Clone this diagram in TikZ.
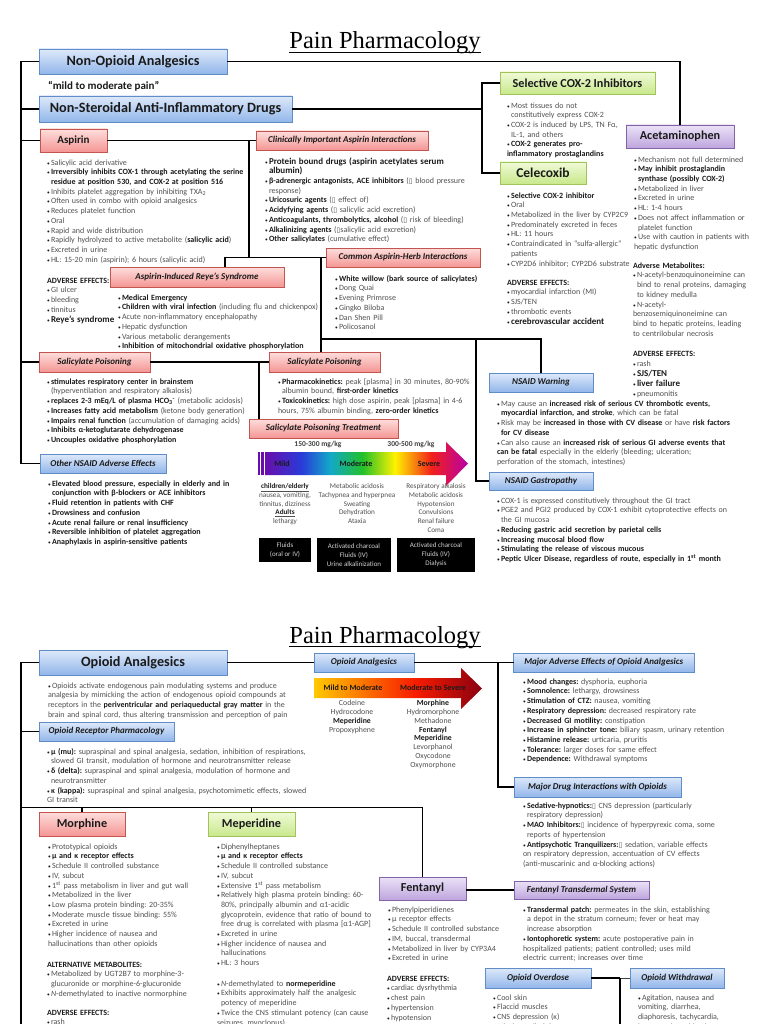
\documentclass[tikz,border=0pt]{standalone}
\usepackage{fontspec}
\setmainfont{Carlito}
\newfontfamily\serifttl{Liberation Serif}
\newfontfamily\djv{DejaVu Sans}
\AtBeginDocument{\frenchspacing}
\definecolor{txt}{HTML}{505050}
\definecolor{drk}{HTML}{1A1A1A}
\definecolor{rb1}{HTML}{6A0DAD}\definecolor{rb2}{HTML}{2A3BD8}\definecolor{rb3}{HTML}{12A8C8}
\definecolor{rb4}{HTML}{22C02A}\definecolor{rb5}{HTML}{FFF200}\definecolor{rb6}{HTML}{F2201A}\definecolor{rb7}{HTML}{B800A8}
\definecolor{ho1}{HTML}{FFC800}\definecolor{ho2}{HTML}{F81C00}\definecolor{ho3}{HTML}{8A0010}
\pgfdeclarehorizontalshading{rainbowx}{100bp}{color(0bp)=(rb1);color(25bp)=(rb1);color(34bp)=(rb2);color(41bp)=(rb3);color(49bp)=(rb4);color(57bp)=(rb5);color(66bp)=(rb6);color(75bp)=(rb7);color(100bp)=(rb7)}
\pgfdeclarehorizontalshading{heatx}{100bp}{color(0bp)=(ho1);color(25bp)=(ho1);color(55bp)=(ho2);color(75bp)=(ho3);color(100bp)=(ho3)}
\newcommand{\bb}[1]{\textbf{\color{drk}#1}}
\newcommand{\nog}{{\djv\fontsize{7}{5}\selectfont\symbol{"25AF}}}
\newcommand{\itm}{\par\hangindent=4pt\hangafter=1\noindent\hbox to 4pt{\rule{0pt}{6.5pt}\color{drk}\fontsize{5.5}{5}\selectfont\textbullet\hss}}
\newcommand{\bigb}[1]{{\fontsize{9}{9.7}\selectfont\bb{#1}}}
\newcommand{\hdr}[1]{\par\noindent\rule{0pt}{6.5pt}\bb{#1}}
\tikzset{
  conn/.style={draw=black,line width=1.9pt,line cap=butt,line join=miter},
  thinc/.style={draw=black!75,line width=.9pt},
  lst/.style={inner sep=0pt,outer sep=0pt,align=left,text=txt,font=\fontsize{8}{9.7}\selectfont},
  ctr/.style={inner sep=0pt,outer sep=0pt,align=center,text=txt,font=\fontsize{7.2}{8.75}\selectfont,anchor=north},
  ctrb/.style={ctr,font=\fontsize{7.8}{8.75}\selectfont},
  bxbase/.style={inner sep=0pt,outer sep=0pt,line width=.8pt,text=drk,align=center},
  blue/.style={bxbase,draw={rgb,255:red,96;green,140;blue,200},top color={rgb,255:red,222;green,233;blue,250},bottom color={rgb,255:red,146;green,182;blue,234}},
  red/.style={bxbase,draw={rgb,255:red,195;green,85;blue,80},top color={rgb,255:red,253;green,222;blue,220},bottom color={rgb,255:red,244;green,150;blue,148}},
  green/.style={bxbase,draw={rgb,255:red,160;green,195;blue,90},top color={rgb,255:red,240;green,250;blue,215},bottom color={rgb,255:red,200;green,232;blue,140}},
  purple/.style={bxbase,draw={rgb,255:red,128;green,100;blue,165},top color={rgb,255:red,235;green,226;blue,246},bottom color={rgb,255:red,190;green,165;blue,222}},
  blackb/.style={inner sep=0pt,outer sep=0pt,fill=black,text=black!18,align=center,font=\fontsize{7}{8.9}\selectfont},
  hbig/.style={font=\fontsize{14.2}{16}\selectfont\bfseries},
  hmid/.style={font=\fontsize{12.2}{14}\selectfont\bfseries},
  hsm/.style={font=\fontsize{11}{13}\selectfont\bfseries},
  hlg/.style={font=\fontsize{13.5}{15}\selectfont\bfseries},
  hit/.style={font=\fontsize{9}{11}\selectfont\bfseries\itshape},
  ttl/.style={inner sep=0pt,outer sep=0pt,text=black,font=\fontsize{24.5}{26}\selectfont\serifttl},
  lbl/.style={inner sep=0pt,outer sep=0pt,text=drk,font=\fontsize{8}{10}\selectfont\bfseries},
  lblr/.style={inner sep=0pt,outer sep=0pt,text=txt!80!black,font=\fontsize{7.5}{10}\selectfont\bfseries},
}
\newcommand{\mybox}[7][]{\node[#1,minimum width={(#5-#3)*1pt},minimum height={(#6-#4)*1pt}] (#2) at ({(#3+#5)/2},{(#4+#6)/2}) {#7};}
\newcommand{\blk}[5]{\node[lst,anchor=north west,text width=#4pt] (#1) at (#2,{#3-4.5}) {#5};}
\newcommand{\clist}[5][ctr]{\node[#1] (#2) at (#3,{#4-4.5}) {#5};}
\begin{document}
\begin{tikzpicture}[x=1pt,y=-1pt]
\useasboundingbox (0,0) rectangle (768,1024);
\clip (0,0) rectangle (768,1024);
\fill[white] (0,0) rectangle (768,1024);
\coordinate (s1) at (21,1);
\coordinate (j1) at (482,1);
\coordinate (j2) at (249,1);
\coordinate (j3) at (225,1);
\coordinate (j4) at (321,1);
\coordinate (j6) at (476,1);
\coordinate (j7) at (259,1);
\coordinate (h1) at (1,339);
\coordinate (j8) at (498,1);
\coordinate (h2) at (1,807.5);
\coordinate (j10) at (620,1);
\coordinate (bot) at (1,1030);
% titles
\node[ttl,anchor=base] (t1) at (385,49) {Pain Pharmacology};
\node[ttl,anchor=base] (t2) at (385,643) {Pain Pharmacology};
\draw[black,line width=.7pt] ([yshift=-3pt]t1.base west) -- ([yshift=-3pt]t1.base east);
\draw[black,line width=.7pt] ([yshift=-3pt]t2.base west) -- ([yshift=-3pt]t2.base east);
% boxes page 1
\mybox[blue,hbig]{nonop}{39}{49}{227}{74}{Non-Opioid Analgesics}
\mybox[blue,hbig]{nsaid}{39}{96}{292}{122}{Non-Steroidal Anti-Inflammatory Drugs}
\mybox[red,hsm]{aspirin}{40}{129}{107}{152}{Aspirin}
\mybox[red,hit]{clin}{256}{131}{428}{150}{Clinically Important Aspirin Interactions}
\mybox[red,hit]{reye}{110}{267}{284}{287}{Aspirin-Induced Reye’s Syndrome}
\mybox[red,hit]{common}{326}{248}{480}{267}{Common Aspirin-Herb Interactions}
\mybox[green,hmid]{selcox}{500}{72}{655}{94}{Selective COX-2 Inhibitors}
\mybox[green,hlg]{celeco}{500}{162}{586}{184}{Celecoxib}
\mybox[purple,hmid]{aceta}{626}{125}{734}{148}{Acetaminophen}
\mybox[red,hit]{salL}{39}{352}{150}{372}{Salicylate Poisoning}
\mybox[red,hit]{salR}{269}{352}{380}{372}{Salicylate Poisoning}
\mybox[red,hit]{treat}{249}{419}{398}{438}{Salicylate Poisoning Treatment}
\mybox[blue,hit]{other}{40}{454}{166}{473}{Other NSAID Adverse Effects}
\mybox[blue,hit]{warn}{489}{373}{593}{392}{NSAID Warning}
\mybox[blue,hit]{gastro}{489}{472}{593}{490}{NSAID Gastropathy}
% connectors page 1
\draw[conn] (nonop.west) -- (nonop.west -| s1) -- (other.west -| s1) -- (other.west);
\draw[conn] (nsaid.west) -- (nsaid.west -| s1);
\draw[conn] (aspirin.west) -- (aspirin.west -| s1);
\draw[conn] (salL.west) -- (salL.west -| s1);
\draw[conn] (nonop.east) -- (nonop.east -| aceta.north) -- (aceta.north);
\draw[conn] (nsaid.east) -- (nsaid.east -| j1);
\draw[conn] (selcox.west) -- (selcox.west -| j1) -- (celeco.west -| j1) -- (celeco.west);
\draw[conn] (aspirin.east) -- (clin.west);
\draw[conn] (aspirin.east -| j2) -- (common.west -| j2) -- (common.west);
\draw[conn] (reye.north -| j3) -- (common.west -| j3) -- (common.west -| j2);
\draw[conn] (common.west -| j4) -- (salR.north -| j4);
\draw[conn] (h1 -| j4) -- (h1 -| warn.north) -- (warn.north);
\draw[conn] (h1 -| j6) -- (gastro.west -| j6) -- (gastro.west);
\draw[conn] (salL.east) -- (salR.west);
\draw[conn] (salL.east -| j7) -- (treat.north -| j7);
% text page 1
\node[inner sep=0pt,outer sep=0pt,anchor=west,text=drk,font=\fontsize{11}{13}\selectfont\bfseries] (mild) at (48,86) {“mild to moderate pain”};
\blk{l1}{47}{160}{205}{\itm Salicylic acid derivative
\itm\bb{Irreversibly inhibits COX-1 through acetylating the serine\newline residue at position 530, and COX-2 at position 516}
\itm Inhibits platelet aggregation by inhibiting TXA\textsubscript{2}
\itm Often used in combo with opioid analgesics
\itm Reduces platelet function
\itm Oral
\itm Rapid and wide distribution
\itm Rapidly hydrolyzed to active metabolite (\bb{salicylic acid})
\itm Excreted in urine
\itm HL: 15-20 min (aspirin); 6 hours (salicylic acid)}
\blk{l1b}{47}{278}{70}{\hdr{ADVERSE EFFECTS:}
\itm GI ulcer
\itm bleeding
\itm tinnitus
\itm\bigb{Reye’s syndrome}}
\blk{l2}{118}{295}{225}{\itm\bb{Medical Emergency}
\itm\bb{Children with viral infection} (including flu and chickenpox)
\itm Acute non-inflammatory encephalopathy
\itm Hepatic dysfunction
\itm Various metabolic derangements
\itm\bb{Inhibition of mitochondrial oxidative phosphorylation}}
\blk{l3}{265}{159}{205}{\itm\bigb{Protein bound drugs (aspirin acetylates serum\newline albumin)}
\itm\bb{β-adrenergic antagonists, ACE inhibitors} (\nog{} blood pressure\newline response)
\itm\bb{Uricosuric agents} (\nog{} effect of)
\itm\bb{Acidyfying agents} (\nog{} salicylic acid excretion)
\itm\bb{Anticoagulants, thrombolytics, alcohol} (\nog{} risk of bleeding)
\itm\bb{Alkalinizing agents} (\nog{}salicylic acid excretion)
\itm\bb{Other salicylates} (cumulative effect)}
\blk{l4}{335}{276}{145}{\itm\bb{White willow (bark source of salicylates)}
\itm Dong Quai
\itm Evening Primrose
\itm Gingko Biloba
\itm Dan Shen Pill
\itm Policosanol}
\blk{l5}{507}{103}{112}{\itm Most tissues do not\newline constitutively express COX-2
\itm COX-2 is induced by LPS, TN Fα,\newline IL-1, and others
\itm\bb{COX-2 generates pro-\newline inflammatory prostaglandins}}
\blk{l6}{507}{193}{125}{\itm\bb{Selective COX-2 inhibitor}
\itm Oral
\itm Metabolized in the liver by CYP2C9
\itm Predominately excreted in feces
\itm HL: 11 hours
\itm Contraindicated in “sulfa-allergic”\newline patients
\itm CYP2D6 inhibitor; CYP2D6 substrate}
\blk{l6b}{507}{280}{110}{\hdr{ADVERSE EFFECTS:}
\itm myocardial infarction (MI)
\itm SJS/TEN
\itm thrombotic events
\itm\bigb{cerebrovascular accident}}
\blk{l7}{634}{157}{125}{\itm Mechanism not full determined
\itm\bb{May inhibit prostaglandin\newline synthase (possibly COX-2)}
\itm Metabolized in liver
\itm Excreted in urine
\itm HL: 1-4 hours
\itm Does not affect inflammation or\newline platelet function
\itm Use with caution in patients with\newline hepatic dysfunction}
\blk{l7b}{633}{263}{125}{\hdr{Adverse Metabolites:}
\itm N-acetyl-benzoquinoneimine can\newline bind to renal proteins, damaging\newline to kidney medulla
\itm N-acetyl-\newline benzosemiquinoneimine can\newline bind to hepatic proteins, leading\newline to centrilobular necrosis}
\blk{l7c}{633}{351}{70}{\hdr{ADVERSE EFFECTS:}
\par\vspace{1pt}\itm rash
\itm\bigb{SJS/TEN}
\itm\bigb{liver failure}
\itm pneumonitis}
\blk{l8}{47}{379}{205}{\itm\bb{stimulates respiratory center in brainstem}\newline (hyperventilation and respiratory alkalosis)
\itm\bb{replaces 2-3 mEq/L of plasma HCO\textsubscript{3}\textsuperscript{-}} (metabolic acidosis)
\itm\bb{Increases fatty acid metabolism} (ketone body generation)
\itm\bb{Impairs renal function} (accumulation of damaging acids)
\itm\bb{Inhibits α-ketoglutarate dehydrogenase}
\itm\bb{Uncouples oxidative phosphorylation}}
\blk{l9}{48}{481}{195}{\itm\bb{Elevated blood pressure, especially in elderly and in\newline conjunction with β-blockers or ACE inhibitors}
\itm\bb{Fluid retention in patients with CHF}
\itm\bb{Drowsiness and confusion}
\itm\bb{Acute renal failure or renal insufficiency}
\itm\bb{Reversible inhibition of platelet aggregation}
\itm\bb{Anaphylaxis in aspirin-sensitive patients}}
\blk{l10}{278}{379}{195}{\itm\bb{Pharmacokinetics:} peak [plasma] in 30 minutes, 80-90\%\newline albumin bound, \bb{first-order kinetics}
\itm\bb{Toxicokinetics:} high dose aspirin, peak [plasma] in 4-6\newline hours, 75\% albumin binding, \bb{zero-order kinetics}}
\blk{l11}{497}{401}{240}{\itm May cause an \bb{increased risk of serious CV thrombotic events,\newline myocardial infarction, and stroke}, which can be fatal
\itm Risk may be \bb{increased in those with CV disease} or have \bb{risk factors\newline for CV disease}
\itm Can also cause an \bb{increased risk of serious GI adverse events that\newline can be fatal} especially in the elderly (bleeding; ulceration;\newline perforation of the stomach, intestines)}
\blk{l12}{497}{498}{240}{\itm COX-1 is expressed constitutively throughout the GI tract
\itm PGE2 and PGI2 produced by COX-1 exhibit cytoprotective effects on\newline the GI mucosa
\itm\bb{Reducing gastric acid secretion by parietal cells}
\itm\bb{Increasing mucosal blood flow}
\itm\bb{Stimulating the release of viscous mucous}
\itm\bb{Peptic Ulcer Disease, regardless of route, especially in 1\textsuperscript{st} month}}
% rainbow arrow
\fill[rb1] (257.5,452) rectangle (259.5,475);
\fill[rb1] (261,452) rectangle (263.5,475);
\path[shading=rainbowx] (265,452) -- (446,452) -- (446,442) -- (468,463.5) -- (446,486) -- (446,475) -- (265,475) -- cycle;
\node[lblr,anchor=center] (d1) at (318,445) {150-300 mg/kg};
\node[lblr,anchor=center] (d2) at (411,445) {300-500 mg/kg};
\node[lbl,anchor=center] (sev1) at (282,464) {Mild};
\node[lbl,anchor=center] (sev2) at (356,464) {Moderate};
\node[lbl,anchor=center] (sev3) at (429,464) {Severe};
\clist{c1}{285}{488}{\underline{\bb{children/elderly}}\\nausea, vomiting,\\tinnitus, dizziness\\\underline{\bb{Adults}}\\lethargy}
\clist{c2}{357}{488}{Metabolic acidosis\\Tachypnea and hyperpnea\\Sweating\\Dehydration\\Ataxia}
\clist{c3}{436}{488}{Respiratory alkalosis\\Metabolic acidosis\\Hypotension\\Convulsions\\Renal failure\\Coma}
\mybox[blackb]{f1}{259}{538}{311}{562}{Fluids\\(oral or IV)}
\mybox[blackb]{f2}{317}{538}{391}{572}{Activated charcoal\\Fluids (IV)\\Urine alkalinization}
\mybox[blackb]{f3}{397}{538}{475}{572}{Activated charcoal\\Fluids (IV)\\Dialysis}
% boxes page 2
\mybox[blue,hbig]{opioid}{39}{650}{227}{675}{Opioid Analgesics}
\mybox[blue,hit]{opsm}{314}{653}{414}{672}{Opioid Analgesics}
\mybox[blue,hit]{major}{513.5}{653}{694}{672}{Major Adverse Effects of Opioid Analgesics}
\mybox[blue,hit]{drug}{514}{777}{681}{797}{Major Drug Interactions with Opioids}
\mybox[blue,hit]{recep}{39}{722}{174}{741}{Opioid Receptor Pharmacology}
\mybox[red,hmid]{morph}{39}{812}{125}{836}{Morphine}
\mybox[green,hmid]{meper}{208}{812}{295}{836}{Meperidine}
\mybox[purple,hmid]{fent}{379}{877}{466}{900}{Fentanyl}
\mybox[purple,hit]{trans}{514}{881}{649}{899}{Fentanyl Transdermal System}
\mybox[blue,hit]{over}{485}{968}{591}{988}{Opioid Overdose}
\mybox[blue,hit]{with}{630}{968}{724}{988}{Opioid Withdrawal}
% connectors page 2
\draw[conn] (opioid.west) -- (opioid.west -| s1) -- (bot -| s1);
\draw[conn] (recep.west) -- (recep.west -| s1);
\draw[conn] (opioid.east) -- (opsm.west);
\draw[conn] (opsm.east) -- (major.west);
\draw[conn] (major.west -| j8) -- (drug.west -| j8) -- (drug.west);
\draw[conn] (h2 -| s1) -- (h2 -| fent.north) -- (fent.north);
\draw[conn] (morph.north) -- (morph.north |- h2);
\draw[conn] (meper.north) -- (meper.north |- h2);
\draw[conn] (trans.west -| fent.east) -- (trans.west);
\draw[conn] (over.east) -- (over.east -| j10);
\draw[thinc] (over.east -| j10) -- (with.west);
\draw[conn] (over.east -| j10) -- (bot -| j10);
% heat arrow
\path[shading=heatx] (314,678) -- (461,678) -- (461,668) -- (482,688.5) -- (461,709) -- (461,698) -- (314,698) -- cycle;
\node[lbl,anchor=center] (r1) at (353,688) {Mild to Moderate};
\node[lbl,anchor=center] (r2) at (433,688) {Moderate to Severe};
\clist[ctrb]{c4}{352}{705}{Codeine\\Hydrocodone\\\bb{Meperidine}\\Propoxyphene}
\clist[ctrb]{c5}{433}{705}{\bb{Morphine}\\Hydromorphone\\Methadone\\\bb{Fentanyl}\\\bb{Meperidine}\\Levorphanol\\Oxycodone\\Oxymorphone}
% text page 2
\blk{o1}{48}{683}{245}{\itm Opioids activate endogenous pain modulating systems and produce\newline analgesia by mimicking the action of endogenous opioid compounds at\newline receptors in the \bb{periventricular and periaqueductal gray matter} in the\newline brain and spinal cord, thus altering transmission and perception of pain}
\blk{o2}{47}{749}{290}{\itm\bb{μ (mu):} supraspinal and spinal analgesia, sedation, inhibition of respirations,\newline slowed GI transit, modulation of hormone and neurotransmitter release
\itm\bb{δ (delta):} supraspinal and spinal analgesia, modulation of hormone and\newline neurotransmitter
\itm\bb{κ (kappa):} supraspinal and spinal analgesia, psychotomimetic effects, slowed\newline GI transit}
\blk{o3}{523}{679}{205}{\itm\bb{Mood changes:} dysphoria, euphoria
\itm\bb{Somnolence:} lethargy, drowsiness
\itm\bb{Stimulation of CTZ:} nausea, vomiting
\itm\bb{Respiratory depression:} decreased respiratory rate
\itm\bb{Decreased GI motility:} constipation
\itm\bb{Increase in sphincter tone:} biliary spasm, urinary retention
\itm\bb{Histamine release:} urticaria, pruritis
\itm\bb{Tolerance:} larger doses for same effect
\itm\bb{Dependence:} Withdrawal symptoms}
\blk{o4}{523}{803}{195}{\itm\bb{Sedative-hypnotics:}\nog{} CNS depression (particularly\newline respiratory depression)
\itm\bb{MAO Inhibitors:}\nog{} incidence of hyperpyrexic coma, some\newline reports of hypertension
\itm\bb{Antipsychotic Tranquilizers:}\nog{} sedation, variable effects\newline on respiratory depression, accentuation of CV effects\newline (anti-muscarinic and α-blocking actions)}
\blk{o5}{48}{844}{145}{\itm Prototypical opioids
\itm\bb{μ and κ receptor effects}
\itm Schedule II controlled substance
\itm IV, subcut
\itm 1\textsuperscript{st} pass metabolism in liver and gut wall
\itm Metabolized in the liver
\itm Low plasma protein binding: 20-35\%
\itm Moderate muscle tissue binding: 55\%
\itm Excreted in urine
\itm Higher incidence of nausea and\newline hallucinations than other opioids}
\blk{o5b}{47}{962}{145}{\hdr{ALTERNATIVE METABOLITES:}
\itm Metabolized by UGT2B7 to morphine-3-\newline glucuronide or morphine-6-glucuronide
\itm \textit{N}-demethylated to inactive normorphine}
\blk{o5c}{47}{1010}{70}{\hdr{ADVERSE EFFECTS:}
\itm rash}
\blk{o6}{217}{844}{155}{\itm Diphenylheptanes
\itm\bb{μ and κ receptor effects}
\itm Schedule II controlled substance
\itm IV, subcut
\itm Extensive 1\textsuperscript{st} pass metabolism
\itm Relatively high plasma protein binding: 60-\newline 80\%, principally albumin and α1-acidic\newline glycoprotein, evidence that ratio of bound to\newline free drug is correlated with plasma [α1-AGP]
\itm Excreted in urine
\itm Higher incidence of nausea and\newline hallucinations
\itm HL: 3 hours}
\blk{o6b}{217}{981}{155}{\itm\textit{N}-demethylated to \bb{normeperidine}
\itm Exhibits approximately half the analgesic\newline potency of meperidine
\itm Twice the CNS stimulant potency (can cause\newline seizures, myoclonus)}
\blk{o7}{388}{907}{115}{\itm Phenylpiperidienes
\itm μ receptor effects
\itm Schedule II controlled substance
\itm IM, buccal, transdermal
\itm Metabolized in liver by CYP3A4
\itm Excreted in urine}
\blk{o7b}{387}{976}{90}{\hdr{ADVERSE EFFECTS:}
\itm cardiac dysrhythmia
\itm chest pain
\itm hypertension
\itm hypotension
\itm apnea}
\blk{o8}{523}{907}{195}{\itm\bb{Transdermal patch:} permeates in the skin, establishing\newline a depot in the stratum corneum; fever or heat may\newline increase absorption
\itm\bb{Iontophoretic system:} acute postoperative pain in\newline hospitalized patients; patient controlled; uses mild\newline electric current; increases over time}
\blk{o9}{493}{995}{90}{\itm Cool skin
\itm Flaccid muscles
\itm CNS depression (κ)
\itm Miotic pupils (μ)}
\blk{o10}{638}{995}{95}{\itm Agitation, nausea and\newline vomiting, diarrhea,\newline diaphoresis, tachycardia,\newline hypertension, shivering}
\end{tikzpicture}
\end{document}
